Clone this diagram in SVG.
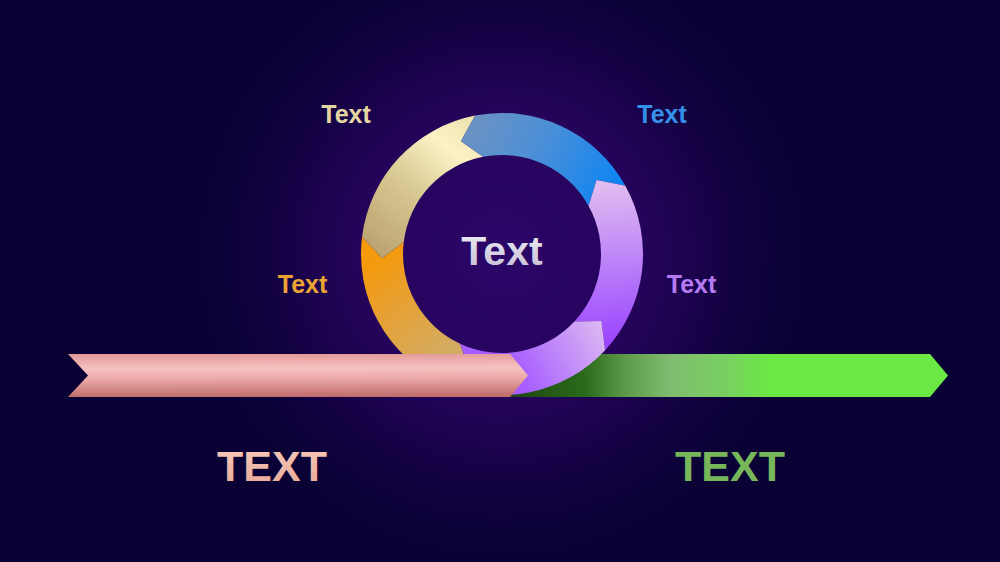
<svg xmlns="http://www.w3.org/2000/svg" width="1000" height="562" viewBox="0 0 1000 562">
  <defs>
    <radialGradient id="glow" cx="502" cy="254" r="300" gradientUnits="userSpaceOnUse">
      <stop offset="0" stop-color="#2c0668"/>
      <stop offset="0.45" stop-color="#26045c"/>
      <stop offset="0.75" stop-color="#140244"/>
      <stop offset="1" stop-color="#0a0234"/>
    </radialGradient>
    <linearGradient id="gOrange" x1="372" y1="262" x2="445" y2="355" gradientUnits="userSpaceOnUse">
      <stop offset="0" stop-color="#f49a0c"/>
      <stop offset="0.45" stop-color="#e6a136"/>
      <stop offset="1" stop-color="#d2ac62"/>
    </linearGradient>
    <linearGradient id="gGold" x1="370" y1="245" x2="470" y2="125" gradientUnits="userSpaceOnUse">
      <stop offset="0" stop-color="#bca472"/>
      <stop offset="0.45" stop-color="#d9c992"/>
      <stop offset="0.8" stop-color="#fbf3c6"/>
      <stop offset="1" stop-color="#f0e4b2"/>
    </linearGradient>
    <linearGradient id="gBlue" x1="470" y1="125" x2="620" y2="195" gradientUnits="userSpaceOnUse">
      <stop offset="0" stop-color="#6c92c2"/>
      <stop offset="0.45" stop-color="#4a8fd8"/>
      <stop offset="1" stop-color="#0a84f5"/>
    </linearGradient>
    <linearGradient id="gPurple" x1="600" y1="185" x2="610" y2="345" gradientUnits="userSpaceOnUse">
      <stop offset="0" stop-color="#e0bcf0"/>
      <stop offset="0.5" stop-color="#bb80f8"/>
      <stop offset="1" stop-color="#9a44ff"/>
    </linearGradient>
    <linearGradient id="gLav" x1="520" y1="380" x2="605" y2="335" gradientUnits="userSpaceOnUse">
      <stop offset="0" stop-color="#a65cff"/>
      <stop offset="1" stop-color="#dab6f2"/>
    </linearGradient>
    <linearGradient id="gPink" x1="0" y1="0" x2="0.04" y2="1">
      <stop offset="0" stop-color="#e19896"/>
      <stop offset="0.35" stop-color="#f7c2c2"/>
      <stop offset="0.6" stop-color="#e9a8a6"/>
      <stop offset="1" stop-color="#c06e6c"/>
    </linearGradient>
    <linearGradient id="gGreen" x1="505" y1="0" x2="948" y2="0" gradientUnits="userSpaceOnUse">
      <stop offset="0" stop-color="#1c4410"/>
      <stop offset="0.18" stop-color="#2a6a1a"/>
      <stop offset="0.27" stop-color="#5a9a48"/>
      <stop offset="0.37" stop-color="#80bc70"/>
      <stop offset="0.5" stop-color="#78d060"/>
      <stop offset="0.6" stop-color="#6be843"/>
      <stop offset="1" stop-color="#6be843"/>
    </linearGradient>
    <linearGradient id="gCenter" x1="0" y1="0" x2="0" y2="1">
      <stop offset="0" stop-color="#f2f0f8"/>
      <stop offset="1" stop-color="#c2bad2"/>
    </linearGradient>
    <linearGradient id="gPinkText" x1="0" y1="0" x2="0" y2="1">
      <stop offset="0" stop-color="#f6cbbd"/>
      <stop offset="1" stop-color="#e8a896"/>
    </linearGradient>
    <style>
      .lbl { font-family: "Liberation Sans", Arial, sans-serif; font-weight: bold; text-anchor: middle; }
      .small { font-size: 25px; }
      .big { font-size: 43px; }
    </style>
  </defs>

  <rect x="0" y="0" width="1000" height="562" fill="url(#glow)"/>

  <g id="connectors">
    <g id="green-arrow">
      <polygon points="505,354 930,354 948,375.5 930,397 505,397" fill="url(#gGreen)"/>
    </g>
  </g>

  <g id="cycle">
    <g id="seg-orange"><path d="M 442.41 381.79 A 141 141 0 0 1 362.05 236.82 L 382.07 258.19 L 403.74 241.93 A 99 99 0 0 0 460.16 343.72 L 468.92 369.35 Z" fill="url(#gOrange)"/></g>
    <g id="seg-gold"><path d="M 362.05 236.82 A 141 141 0 0 1 475.10 115.59 L 460.96 141.24 L 483.11 156.82 A 99 99 0 0 0 403.74 241.93 L 382.07 258.19 Z" fill="url(#gGold)"/></g>
    <g id="seg-blue"><path d="M 475.10 115.59 A 141 141 0 0 1 625.32 185.64 L 596.56 180.12 L 588.59 206.00 A 99 99 0 0 0 483.11 156.82 L 460.96 141.24 Z" fill="url(#gBlue)"/></g>
    <g id="seg-purple"><path d="M 625.32 185.64 A 141 141 0 0 1 605.13 350.16 L 601.48 321.10 L 574.41 321.52 A 99 99 0 0 0 588.59 206.00 L 596.56 180.12 Z" fill="url(#gPurple)"/></g>
    <g id="seg-lavender"><path d="M 605.13 350.16 A 141 141 0 0 1 442.41 381.79 L 468.92 369.35 L 460.16 343.72 A 99 99 0 0 0 574.41 321.52 L 601.48 321.10 Z" fill="url(#gLav)"/></g>
  </g>

  <g id="pink-arrow">
    <polygon points="68,354 510,354 528,375.5 510,397 68,397 88,375.5" fill="url(#gPink)"/>
  </g>

  <g id="center-label"><text class="lbl" x="502" y="265" font-size="41" fill="url(#gCenter)">Text</text></g>
  <g id="label-top-left"><text class="lbl small" x="346" y="123" fill="#e6d7a2">Text</text></g>
  <g id="label-top-right"><text class="lbl small" x="662" y="123" fill="#3590ea">Text</text></g>
  <g id="label-left"><text class="lbl small" x="302.5" y="293" fill="#eba434">Text</text></g>
  <g id="label-right"><text class="lbl small" x="691.5" y="293" fill="#b57af4">Text</text></g>
  <g id="label-bottom-left"><text class="lbl big" x="272" y="481" fill="url(#gPinkText)">TEXT</text></g>
  <g id="label-bottom-right"><text class="lbl big" x="730" y="481" fill="#78b65a">TEXT</text></g>
</svg>
